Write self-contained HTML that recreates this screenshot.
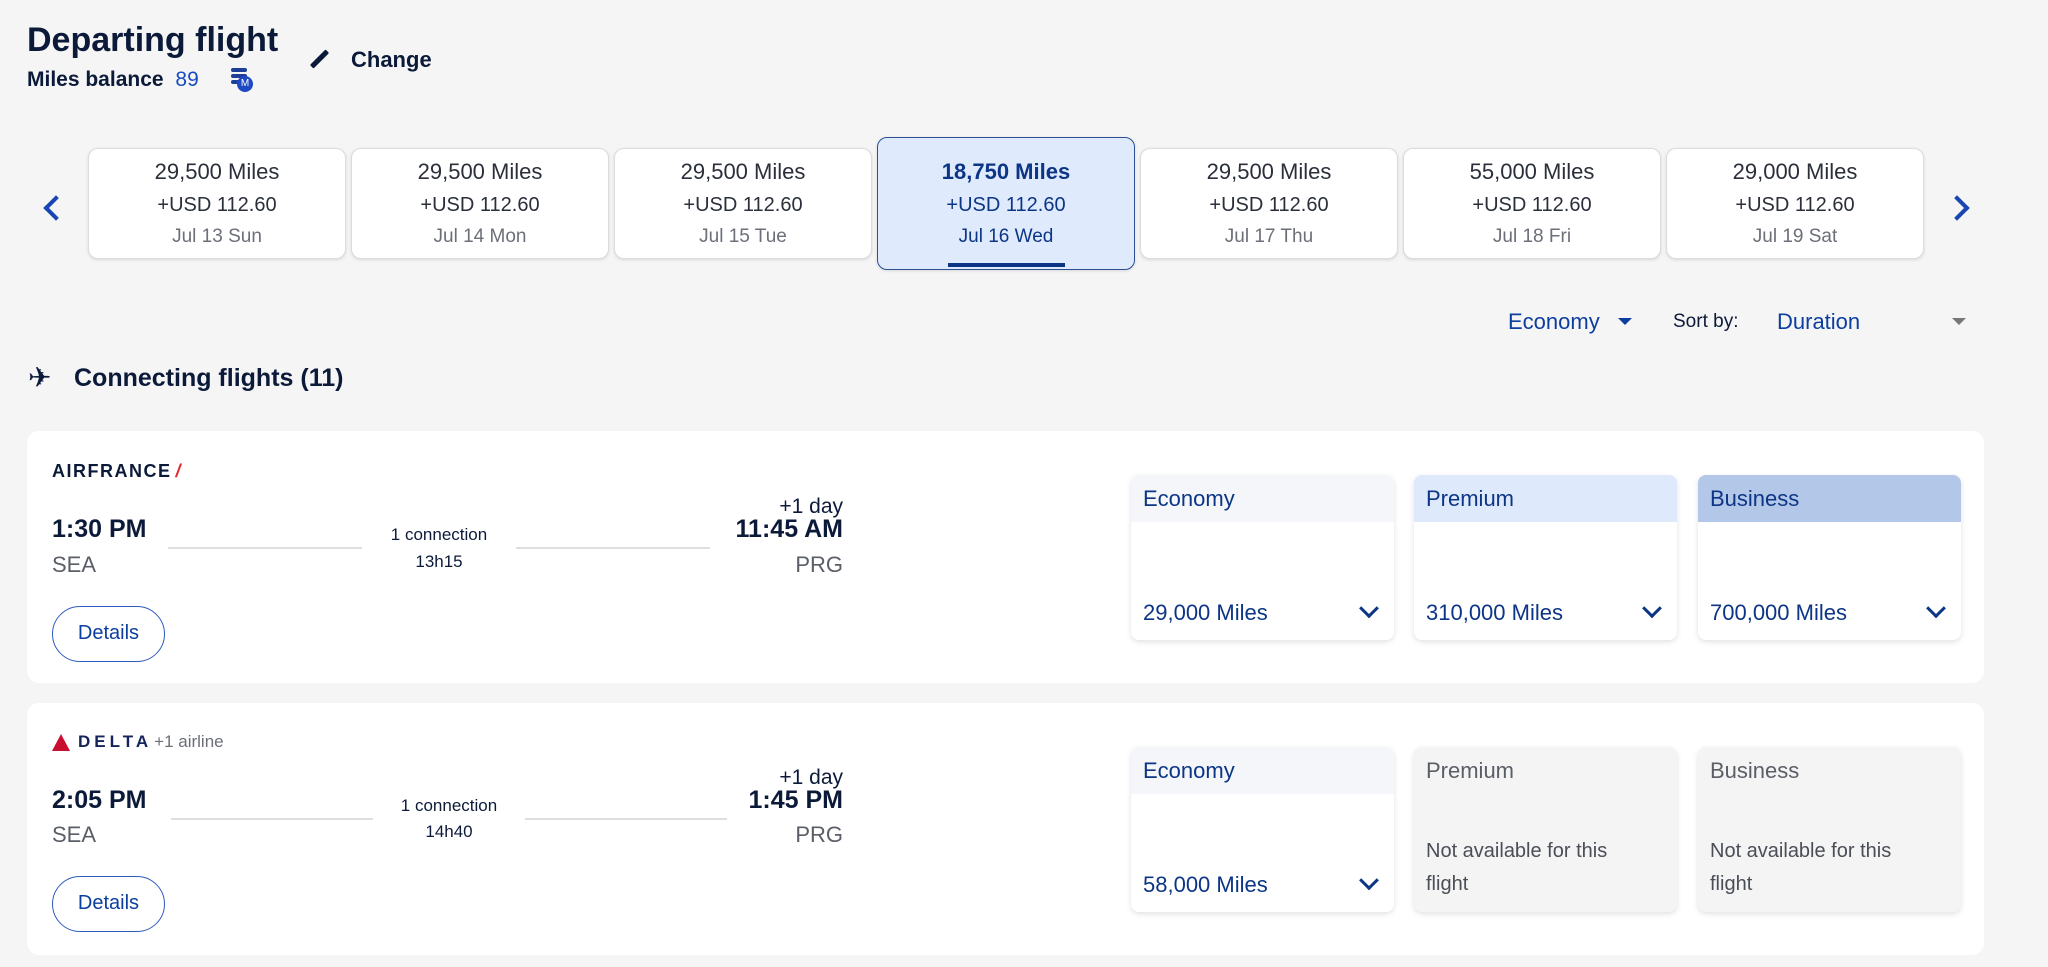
<!DOCTYPE html>
<html><head><meta charset="utf-8"><style>
*{margin:0;padding:0;box-sizing:border-box}
body{width:2048px;height:967px;background:#f5f5f5;font-family:"Liberation Sans",sans-serif;color:#0c1a3a;position:relative;overflow:hidden}
.a{position:absolute;white-space:nowrap}
.c{position:absolute;background:#fff;border:1px solid #dcdcdc;border-radius:10px;box-shadow:0 1px 3px rgba(0,0,0,.12);text-align:center}
.c .m{position:absolute;left:0;right:0;top:8px;font-size:22px;color:#2a2f3a;line-height:30px}
.c .u{position:absolute;left:0;right:0;top:42px;font-size:20px;color:#2a2f3a;line-height:28px}
.c .d{position:absolute;left:0;right:0;top:74px;font-size:19px;color:#6b6f78;line-height:28px}
.card{position:absolute;left:27px;width:1957px;background:#fff;border-radius:12px}
.f{position:absolute;width:263px;height:165px;border-radius:8px;background:#fff;box-shadow:0 2px 6px rgba(0,0,0,.12);overflow:hidden}
.f .h{height:47px;padding-left:12px;font-size:22px;line-height:47px;color:#0c3585}
.f .p{position:absolute;left:12px;top:125px;font-size:22px;color:#0c3585}
.chev{position:absolute;right:18px;top:132px;width:14px;height:14px;border-right:3px solid #0c3585;border-bottom:3px solid #0c3585;transform:rotate(45deg) translate(-4px,-4px)}
.na{background:#f4f4f4}
.na .h{color:#5a5e66}
.na .t{position:absolute;left:12px;top:88px;font-size:20px;line-height:33px;color:#4a4e56;white-space:normal;width:215px}
.ln{position:absolute;height:2px;background:#dedede}
.det{position:absolute;left:52px;width:113px;height:56px;border:1.5px solid #2f5bc0;border-radius:28px;color:#0c3ea0;font-size:20px;text-align:center;line-height:53px}
</style></head><body>
<div class="a" style="left:27px;top:20px;font-size:34px;font-weight:bold;line-height:40px">Departing flight</div>
<div class="a" style="left:27px;top:66px;font-size:21px;font-weight:bold;line-height:28px">Miles balance <span style="font-weight:normal;color:#1a4ac0;margin-left:6px">89</span></div>
<div class="a" style="left:229px;top:68px;width:20px;height:24px;">
<div style="position:absolute;left:2px;top:0;width:16px;height:4px;background:#1d3f9a;border-radius:2px"></div>
<div style="position:absolute;left:2px;top:6px;width:16px;height:4px;background:#1d3f9a;border-radius:2px"></div>
<div style="position:absolute;left:2px;top:12px;width:16px;height:4px;background:#1d3f9a;border-radius:2px"></div>
<div style="position:absolute;left:8px;top:8px;width:16px;height:16px;background:#1d4ac0;border-radius:50%;color:#fff;font-size:10px;text-align:center;line-height:16px">M</div></div>
<div class="a" style="left:317px;top:48px;width:5px;height:22px;background:#0c1a3a;transform:rotate(45deg);border-radius:1px"></div>
<div class="a" style="left:351px;top:45px;font-size:22px;font-weight:bold;line-height:30px">Change</div>

<div class="a" style="left:47px;top:199px;width:18px;height:18px;border-left:4px solid #1a45b5;border-bottom:4px solid #1a45b5;transform:rotate(45deg)"></div>
<div class="a" style="left:1948px;top:199px;width:18px;height:18px;border-right:4px solid #1a45b5;border-top:4px solid #1a45b5;transform:rotate(45deg)"></div>

<div class="c" style="left:88px;top:148px;width:258px;height:111px"><div class="m">29,500 Miles</div><div class="u">+USD 112.60</div><div class="d">Jul 13 Sun</div></div>
<div class="c" style="left:351px;top:148px;width:258px;height:111px"><div class="m">29,500 Miles</div><div class="u">+USD 112.60</div><div class="d">Jul 14 Mon</div></div>
<div class="c" style="left:614px;top:148px;width:258px;height:111px"><div class="m">29,500 Miles</div><div class="u">+USD 112.60</div><div class="d">Jul 15 Tue</div></div>
<div class="c" style="left:877px;top:137px;width:258px;height:133px;background:#dfeafc;border-color:#2c4f95"><div class="m" style="top:19px;color:#0c3585;font-weight:bold">18,750 Miles</div><div class="u" style="top:53px;color:#0c3585">+USD 112.60</div><div class="d" style="top:85px;color:#0c3585">Jul 16 Wed</div><div style="position:absolute;left:70px;top:125px;width:117px;height:4px;background:#0c3585"></div></div>
<div class="c" style="left:1140px;top:148px;width:258px;height:111px"><div class="m">29,500 Miles</div><div class="u">+USD 112.60</div><div class="d">Jul 17 Thu</div></div>
<div class="c" style="left:1403px;top:148px;width:258px;height:111px"><div class="m">55,000 Miles</div><div class="u">+USD 112.60</div><div class="d">Jul 18 Fri</div></div>
<div class="c" style="left:1666px;top:148px;width:258px;height:111px"><div class="m">29,000 Miles</div><div class="u">+USD 112.60</div><div class="d">Jul 19 Sat</div></div>

<div class="a" style="left:1508px;top:307px;font-size:22px;color:#0c3ea0;line-height:30px">Economy</div>
<div class="a" style="left:1618px;top:318px;border-left:7px solid transparent;border-right:7px solid transparent;border-top:7px solid #0c3ea0"></div>
<div class="a" style="left:1673px;top:309px;font-size:19px;line-height:26px">Sort by:</div>
<div class="a" style="left:1777px;top:307px;font-size:22px;color:#0c3ea0;line-height:30px">Duration</div>
<div class="a" style="left:1952px;top:318px;border-left:7px solid transparent;border-right:7px solid transparent;border-top:7px solid #777"></div>

<div class="a" style="left:28px;top:364px;font-size:28px;line-height:28px;color:#0c1a3a">✈</div>
<div class="a" style="left:74px;top:362px;font-size:25px;font-weight:bold;line-height:32px">Connecting flights (11)</div>

<div class="card" style="top:431px;height:252px"></div>
<div class="a" style="left:52px;top:461px;font-size:18px;font-weight:bold;letter-spacing:1.5px;line-height:20px">AIRFRANCE<span style="color:#e3262f;font-style:italic;margin-left:4px">/</span></div>
<div class="a" style="left:52px;top:514px;font-size:25px;font-weight:bold;line-height:30px">1:30 PM</div>
<div class="a" style="left:52px;top:551px;font-size:22px;color:#5a5e66;line-height:28px">SEA</div>
<div class="ln" style="left:168px;top:547px;width:194px"></div>
<div class="ln" style="left:516px;top:547px;width:194px"></div>
<div class="a" style="left:339px;width:200px;text-align:center;top:524px;font-size:17px;line-height:22px">1 connection</div>
<div class="a" style="left:339px;width:200px;text-align:center;top:551px;font-size:17px;line-height:22px">13h15</div>
<div class="a" style="right:1205px;top:494px;font-size:21px;line-height:26px">+1 day</div>
<div class="a" style="right:1205px;top:514px;font-size:25px;font-weight:bold;line-height:30px">11:45 AM</div>
<div class="a" style="right:1205px;top:551px;font-size:22px;color:#5a5e66;line-height:28px">PRG</div>
<div class="det" style="top:606px">Details</div>

<div class="f" style="left:1131px;top:475px"><div class="h" style="background:#f4f6fa">Economy</div><div class="p">29,000 Miles</div><div class="chev"></div></div>
<div class="f" style="left:1414px;top:475px"><div class="h" style="background:#deeafc">Premium</div><div class="p">310,000 Miles</div><div class="chev"></div></div>
<div class="f" style="left:1698px;top:475px"><div class="h" style="background:#b3c7e8">Business</div><div class="p">700,000 Miles</div><div class="chev"></div></div>

<div class="card" style="top:703px;height:252px"></div>
<div class="a" style="left:52px;top:734px;width:0;height:0;border-left:9px solid transparent;border-right:9px solid transparent;border-bottom:17px solid #c8102e"></div>
<div class="a" style="left:78px;top:732px;font-size:17px;font-weight:bold;letter-spacing:4px;line-height:20px;color:#14245a">DELTA<span style="font-weight:normal;letter-spacing:0;color:#6b6f78;font-size:17px;margin-left:2px">+1 airline</span></div>
<div class="a" style="left:52px;top:785px;font-size:25px;font-weight:bold;line-height:30px">2:05 PM</div>
<div class="a" style="left:52px;top:821px;font-size:22px;color:#5a5e66;line-height:28px">SEA</div>
<div class="ln" style="left:171px;top:818px;width:202px"></div>
<div class="ln" style="left:525px;top:818px;width:202px"></div>
<div class="a" style="left:349px;width:200px;text-align:center;top:795px;font-size:17px;line-height:22px">1 connection</div>
<div class="a" style="left:349px;width:200px;text-align:center;top:821px;font-size:17px;line-height:22px">14h40</div>
<div class="a" style="right:1205px;top:765px;font-size:21px;line-height:26px">+1 day</div>
<div class="a" style="right:1205px;top:785px;font-size:25px;font-weight:bold;line-height:30px">1:45 PM</div>
<div class="a" style="right:1205px;top:821px;font-size:22px;color:#5a5e66;line-height:28px">PRG</div>
<div class="det" style="top:876px">Details</div>

<div class="f" style="left:1131px;top:747px"><div class="h" style="background:#f4f6fa">Economy</div><div class="p">58,000 Miles</div><div class="chev"></div></div>
<div class="f na" style="left:1414px;top:747px"><div class="h">Premium</div><div class="t">Not available for this flight</div></div>
<div class="f na" style="left:1698px;top:747px"><div class="h">Business</div><div class="t">Not available for this flight</div></div>
</body></html>
